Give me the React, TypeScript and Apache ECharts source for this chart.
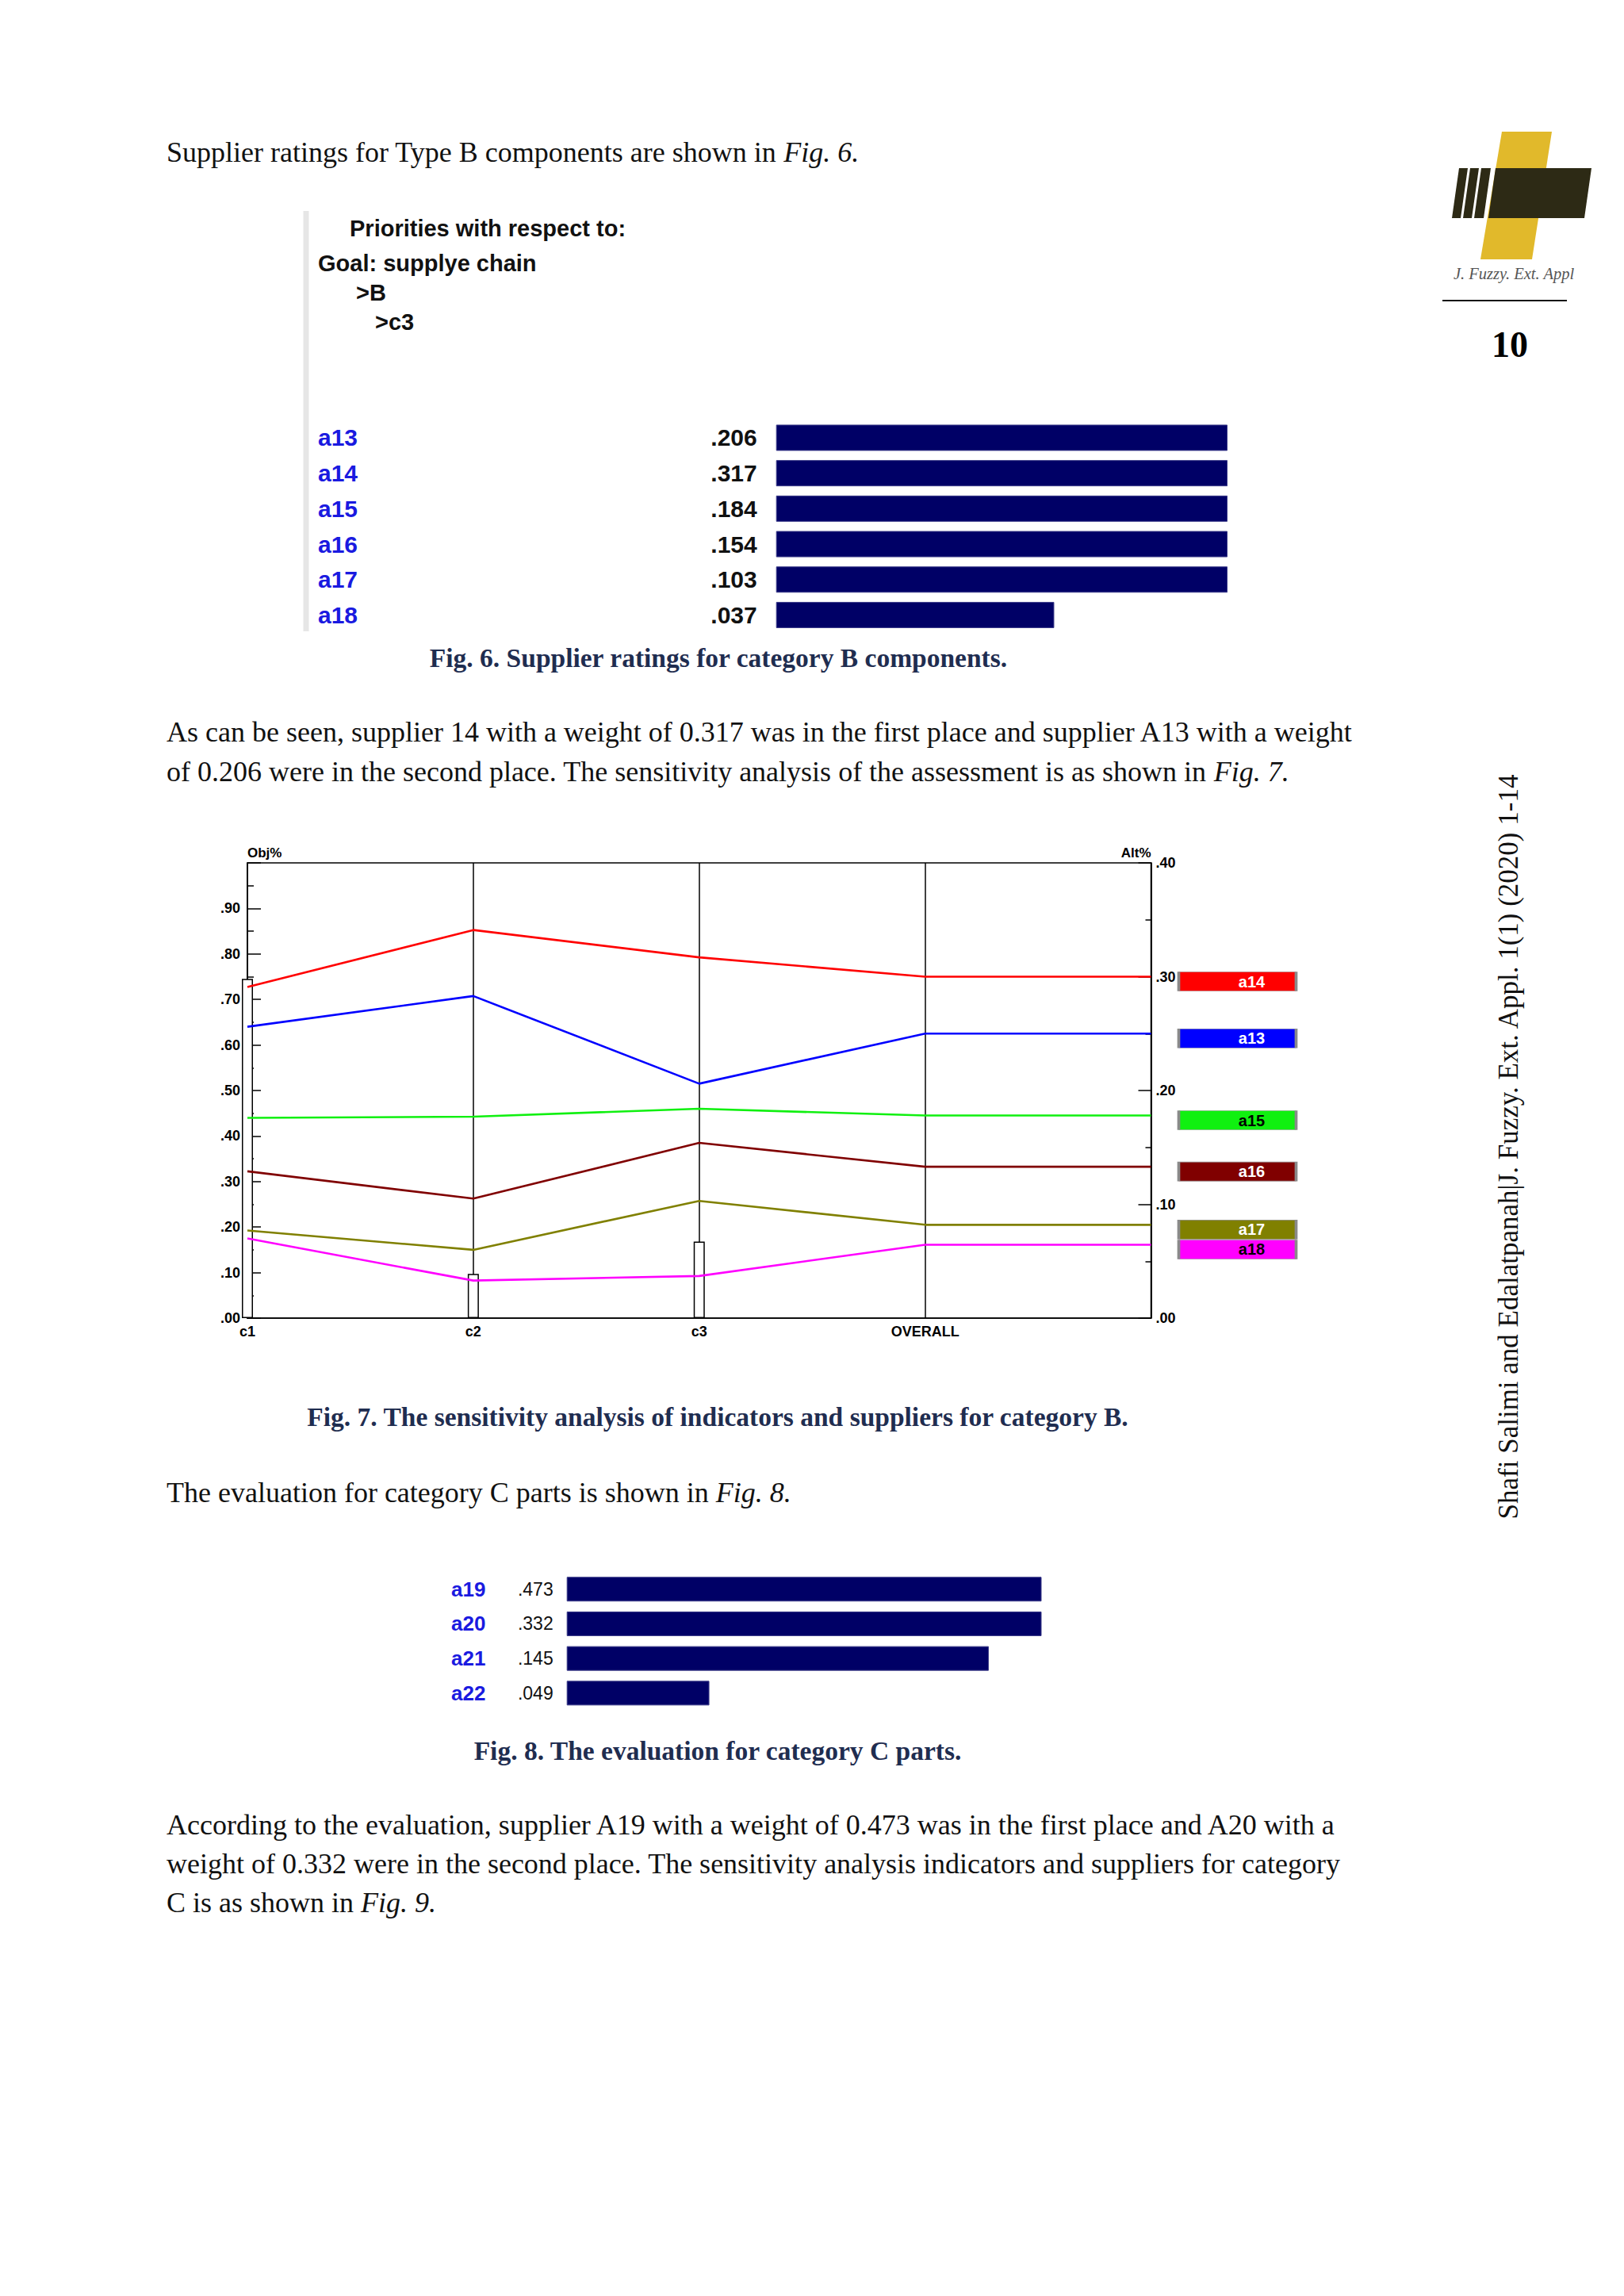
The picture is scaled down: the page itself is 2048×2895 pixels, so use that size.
import React, { useEffect, useRef } from "react";
import * as echarts from "echarts";

// ---------------- data ----------------
// Fig. 6 — priorities with respect to c3 (category B)
const fig6Header = ["Priorities with respect to:", "Goal: supplye chain", ">B", ">c3"];
const fig6Names = ["a13", "a14", "a15", "a16", "a17", "a18"];
const fig6Values = [0.206, 0.317, 0.184, 0.154, 0.103, 0.037];
const fig6BarScaleMax = 0.06;

// Fig. 7 — sensitivity analysis
const fig7Categories = ["c1", "c2", "c3", "OVERALL"];
const fig7CriteriaPriority = [0.745, 0.097, 0.168];
const fig7Suppliers = ["a14", "a13", "a15", "a16", "a17", "a18"];
const fig7Colors = ["#ff0000", "#0000ff", "#10f010", "#800000", "#808000", "#ff00ff"];
const fig7LabelColors = ["#ffffff", "#ffffff", "#000000", "#ffffff", "#ffffff", "#000000"];
const a14Values = [0.291, 0.341, 0.317, 0.3];
const a13Values = [0.256, 0.283, 0.206, 0.25];
const a15Values = [0.176, 0.177, 0.184, 0.178];
const a16Values = [0.129, 0.105, 0.154, 0.133];
const a17Values = [0.077, 0.06, 0.103, 0.082];
const a18Values = [0.07, 0.033, 0.037, 0.0645];
const fig7Series = [a14Values, a13Values, a15Values, a16Values, a17Values, a18Values];

// Fig. 8 — category C
const fig8Names = ["a19", "a20", "a21", "a22"];
const fig8Values = [0.473, 0.332, 0.145, 0.049];
const fig8BarScaleMax = 0.163;

// page text
const line1 = ["Supplier ratings for Type B components are shown in ", "Fig. 6."];
const para2 = [
  ["As can be seen, supplier 14 with a weight of 0.317 was in the first place and supplier A13 with a weight", ""],
  ["of 0.206 were in the second place. The sensitivity analysis of the assessment is as shown in ", "Fig. 7."],
];
const line3 = ["The evaluation for category C parts is shown in ", "Fig. 8."];
const para4 = [
  ["According to the evaluation, supplier A19 with a weight of 0.473 was in the first place and A20 with a", ""],
  ["weight of 0.332 were in the second place. The sensitivity analysis indicators and suppliers for category", ""],
  ["C is as shown in ", "Fig. 9."],
];
const captions = [
  "Fig. 6. Supplier ratings for category B components.",
  "Fig. 7. The sensitivity analysis of indicators and suppliers for category B.",
  "Fig. 8. The evaluation for category C parts.",
];
const journalShort = "J. Fuzzy. Ext. Appl";
const pageNumber = "10";
const sideText = "Shafi Salimi and Edalatpanah|J. Fuzzy. Ext. Appl. 1(1) (2020) 1-14";

// ---------------- helpers ----------------
const SERIF = "'Liberation Serif', 'Times New Roman', serif";
const SANS = "'Liberation Sans', Arial, sans-serif";

const fmt3 = (v: number) => v.toFixed(3).replace(/^0/, "");
const fmt2 = (v: number) => (v >= 0.9999 ? "" : v.toFixed(2).replace(/^0/, ""));

function bodyLine(parts: string[], x: number, y: number) {
  const t = parts[1] ? `{r|${parts[0]}}{i|${parts[1]}}` : `{r|${parts[0]}}`;
  return {
    type: "text",
    x,
    y,
    silent: true,
    style: {
      text: t,
      verticalAlign: "middle",
      align: "left",
      rich: {
        r: { fontFamily: SERIF, fontSize: 36, fill: "#111" },
        i: { fontFamily: SERIF, fontSize: 36, fontStyle: "italic", fill: "#111" },
      },
    },
  };
}

function plainText(text: string, x: number, y: number, extra: any) {
  return {
    type: "text",
    x,
    y,
    silent: true,
    style: { text, verticalAlign: "middle", align: "left", fill: "#000", ...extra },
  };
}

export default function App() {
  const ref = useRef<HTMLDivElement>(null);

  useEffect(() => {
    if (!ref.current) return;
    const chart = echarts.init(ref.current, null, { renderer: "svg", width: 2048, height: 2895 });

    // Fig 7 geometry (grid)
    const g7 = { left: 312, top: 1088, width: 1139.5, height: 574 };

    const graphic: any[] = [];
    // body text
    graphic.push(bodyLine(line1, 210, 192));
    graphic.push(bodyLine(para2[0], 210, 923));
    graphic.push(bodyLine(para2[1], 210, 973));
    graphic.push(bodyLine(line3, 210, 1882));
    graphic.push(bodyLine(para4[0], 210, 2301));
    graphic.push(bodyLine(para4[1], 210, 2350));
    graphic.push(bodyLine(para4[2], 210, 2399));

    // captions
    const capStyle = { fontFamily: SERIF, fontSize: 33.5, fontWeight: "bold", fill: "#1f2d50", align: "center" };
    graphic.push(plainText(captions[0], 906, 829, capStyle));
    graphic.push(plainText(captions[1], 905, 1786, capStyle));
    graphic.push(plainText(captions[2], 905, 2207, capStyle));

    // Fig 6 header panel
    graphic.push({
      type: "line",
      silent: true,
      shape: { x1: 386, y1: 266, x2: 386, y2: 796 },
      style: { stroke: "#e6e6e6", lineWidth: 7 },
    });
    const hdrStyle = { fontFamily: SANS, fontSize: 29, fontWeight: "bold", fill: "#111" };
    graphic.push(plainText(fig6Header[0], 441, 288, hdrStyle));
    graphic.push(plainText(fig6Header[1], 401, 332, hdrStyle));
    graphic.push(plainText(fig6Header[2], 449, 369, hdrStyle));
    graphic.push(plainText(fig6Header[3], 473, 406, hdrStyle));

    // logo
    graphic.push({
      type: "polygon",
      silent: true,
      shape: { points: [[1894, 166], [1957, 166], [1932, 327], [1867, 327]] },
      style: { fill: "#e1b92b" },
    });
    graphic.push({
      type: "polygon",
      silent: true,
      shape: { points: [[1886, 212], [2007, 212], [1998, 275], [1877, 275]] },
      style: { fill: "#2d2a15" },
    });
    [[1840, 1851, 1831, 1842], [1854, 1865, 1845, 1856], [1868, 1880, 1859, 1871]].forEach((s) => {
      graphic.push({
        type: "polygon",
        silent: true,
        shape: { points: [[s[0], 212], [s[1], 212], [s[3], 275], [s[2], 275]] },
        style: { fill: "#2d2a15" },
      });
    });
    graphic.push(
      plainText(journalShort, 1909, 345, {
        fontFamily: SERIF,
        fontSize: 20.5,
        fontStyle: "italic",
        fill: "#555",
        align: "center",
      })
    );
    graphic.push({
      type: "line",
      silent: true,
      shape: { x1: 1819, y1: 379, x2: 1976, y2: 379 },
      style: { stroke: "#111", lineWidth: 2 },
    });
    graphic.push(
      plainText(pageNumber, 1904, 434, {
        fontFamily: SERIF,
        fontSize: 46,
        fontWeight: "bold",
        fill: "#000",
        align: "center",
      })
    );
    // vertical running text
    graphic.push({
      type: "text",
      x: 1902,
      y: 1446,
      rotation: Math.PI / 2,
      silent: true,
      style: {
        text: sideText,
        align: "center",
        verticalAlign: "middle",
        fontFamily: SERIF,
        fontSize: 35,
        fill: "#111",
      },
    });

    const axisFont = { fontFamily: SANS, fontSize: 18, fontWeight: "bold", color: "#000" };

    const lineSeries = fig7Suppliers.map((name, i) => ({
      type: "line",
      name,
      xAxisIndex: 0,
      yAxisIndex: 1,
      data: [...fig7Series[i], fig7Series[i][fig7Series[i].length - 1]],
      symbol: "none",
      lineStyle: { color: fig7Colors[i], width: 2.6 },
      itemStyle: { color: fig7Colors[i] },
      z: 5,
    }));

    const option: any = {
      animation: false,
      backgroundColor: "#ffffff",
      grid: [
        { ...g7, show: true, borderColor: "#000", borderWidth: 1.5, backgroundColor: "transparent" },
        { left: 978.7, top: 529.6, width: 568.8, height: 268.2 },
        { left: 714.7, top: 1981.9, width: 598.3, height: 174.8 },
        { left: 1486.6, top: g7.top, width: 147.8, height: g7.height },
      ],
      xAxis: [
        {
          gridIndex: 0,
          type: "category",
          boundaryGap: false,
          data: [...fig7Categories, ""],
          axisLine: { show: true, lineStyle: { color: "#000", width: 1.5 } },
          axisTick: { show: false },
          axisLabel: { ...axisFont, margin: 8, interval: 0 },
          splitLine: { show: true, lineStyle: { color: "#000", width: 1.5 } },
        },
        { gridIndex: 1, type: "value", min: 0, max: fig6BarScaleMax, show: false },
        { gridIndex: 2, type: "value", min: 0, max: fig8BarScaleMax, show: false },
        { gridIndex: 3, type: "value", min: 0, max: 1, show: false },
      ],
      yAxis: [
        {
          gridIndex: 0,
          type: "value",
          position: "left",
          min: 0,
          max: 1,
          interval: 0.1,
          name: "Obj%",
          nameLocation: "end",
          nameGap: 4,
          nameTextStyle: { ...axisFont, fontSize: 17, align: "left", verticalAlign: "bottom" },
          axisLine: { show: true, lineStyle: { color: "#000", width: 1.5 } },
          axisTick: { show: true, inside: true, length: 17, lineStyle: { color: "#000", width: 1.5 } },
          minorTick: { show: true, splitNumber: 2, length: 8, lineStyle: { color: "#000", width: 1.5 } },
          axisLabel: { ...axisFont, margin: 9, formatter: (v: number) => fmt2(v) },
          splitLine: { show: false },
        },
        {
          gridIndex: 0,
          type: "value",
          position: "right",
          min: 0,
          max: 0.4,
          interval: 0.1,
          name: "Alt%",
          nameLocation: "end",
          nameGap: 4,
          nameTextStyle: { ...axisFont, fontSize: 17, align: "right", verticalAlign: "bottom" },
          axisLine: { show: true, lineStyle: { color: "#000", width: 1.5 } },
          axisTick: { show: true, inside: true, length: 16, lineStyle: { color: "#000", width: 1.5 } },
          minorTick: { show: true, splitNumber: 2, length: 7, lineStyle: { color: "#000", width: 1.5 } },
          axisLabel: { ...axisFont, margin: 6, formatter: (v: number) => v.toFixed(2).replace(/^0/, "") },
          splitLine: { show: false },
        },
        {
          gridIndex: 1,
          type: "category",
          inverse: true,
          data: fig6Names,
          axisLine: { show: false },
          axisTick: { show: false },
          axisLabel: {
            align: "left",
            margin: 577.7,
            fontFamily: SANS,
            fontSize: 30,
            fontWeight: "bold",
            color: "#1a1ae0",
          },
        },
        {
          gridIndex: 2,
          type: "category",
          inverse: true,
          data: fig8Names,
          axisLine: { show: false },
          axisTick: { show: false },
          axisLabel: {
            align: "left",
            margin: 145.7,
            fontFamily: SANS,
            fontSize: 26,
            fontWeight: "bold",
            color: "#1a1ae0",
          },
        },
        { gridIndex: 3, type: "value", min: 0, max: 0.4, show: false },
      ],
      series: [
        {
          type: "bar",
          xAxisIndex: 0,
          yAxisIndex: 0,
          data: [...fig7CriteriaPriority, null, null],
          barWidth: 14,
          clip: false,
          itemStyle: { color: "#ffffff", borderColor: "#000", borderWidth: 1.5 },
          z: 3,
        },
        ...lineSeries,
        {
          type: "bar",
          xAxisIndex: 1,
          yAxisIndex: 2,
          data: fig6Values,
          barWidth: 33,
          clip: true,
          itemStyle: { color: "#000066", borderColor: "#3a3a88", borderWidth: 1 },
          label: {
            show: true,
            position: "left",
            distance: 24,
            formatter: (p: any) => fmt3(p.value),
            fontFamily: SANS,
            fontSize: 30,
            fontWeight: "bold",
            color: "#111",
          },
        },
        {
          type: "bar",
          xAxisIndex: 2,
          yAxisIndex: 3,
          data: fig8Values,
          barWidth: 31,
          clip: true,
          itemStyle: { color: "#000066", borderColor: "#3a3a88", borderWidth: 1 },
          label: {
            show: true,
            position: "left",
            distance: 17,
            formatter: (p: any) => fmt3(p.value),
            fontFamily: SANS,
            fontSize: 23,
            fontWeight: "normal",
            color: "#111",
          },
        },
        {
          type: "scatter",
          xAxisIndex: 3,
          yAxisIndex: 4,
          symbol: "rect",
          symbolSize: [148, 24],
          symbolOffset: [0, 6],
          data: fig7Suppliers.map((name, i) => ({
            name,
            value: [0.5, fig7Series[i][fig7Series[i].length - 1]],
            itemStyle: { color: fig7Colors[i], borderColor: "#8a8a8a", borderWidth: 1.5, opacity: 1 },
            label: { color: fig7LabelColors[i] },
          })),
          itemStyle: { opacity: 1 },
          label: {
            show: true,
            position: "inside",
            offset: [18, 0],
            formatter: (p: any) => p.name,
            fontFamily: SANS,
            fontSize: 20,
            fontWeight: "bold",
          },
          z: 4,
        },
      ],
      graphic,
    };

    chart.setOption(option);
    return () => chart.dispose();
  }, []);

  return (
    <div
      ref={ref}
      style={{ position: "absolute", left: 0, top: 0, width: 2048, height: 2895, background: "#fff" }}
    />
  );
}
